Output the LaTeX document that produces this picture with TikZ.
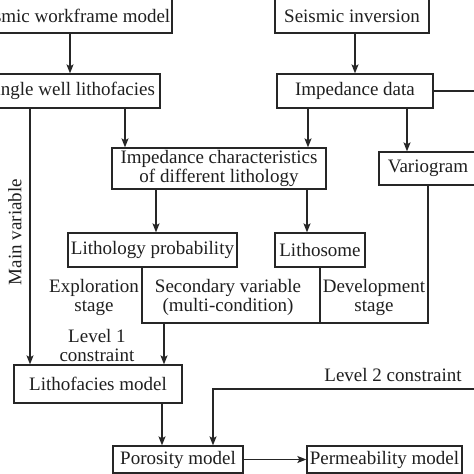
\documentclass[tikz,border=0pt]{standalone}
\usepackage{fontspec}
\setmainfont{Liberation Serif}
\usetikzlibrary{arrows.meta}
\begin{document}
\begin{tikzpicture}[x=1pt,y=-1pt,
  every node/.style={font=\fontsize{19}{19}\selectfont, text=black!88},
  box/.style={draw=black!85, line width=1.3pt, inner sep=0pt, align=center},
  ln/.style={draw=black!85, line width=1.3pt},
  arr/.style={ln, -{Stealth[length=9pt,width=7pt,inset=2pt]}},
  lbl/.style={align=center, inner sep=0pt}]
\clip (0,0) rectangle (474,474);
\fill[white] (0,0) rectangle (474,474);
% boxes
\node[box, minimum width=204pt, minimum height=34pt] (wf) at (70,16) {Seismic workframe model};
\node[box, minimum width=154pt, minimum height=34pt] (si) at (352,16) {Seismic inversion};
\node[box, minimum width=180pt, minimum height=34pt] (sw) at (70,91) {Single well lithofacies};
\node[box, minimum width=156pt, minimum height=34pt] (id) at (355,91) {Impedance data};
\node[box, minimum width=214pt, minimum height=41pt] (ic) at (219,168.5) {Impedance characteristics\\of different lithology};
\node[box, minimum width=98pt, minimum height=33pt] (vg) at (428,168.5) {Variogram};
\node[box, minimum width=169pt, minimum height=34pt] (lp) at (152.5,250) {Lithology probability};
\node[box, minimum width=90pt, minimum height=34pt] (ls) at (320,250) {Lithosome};
\node[box, minimum width=168pt, minimum height=38pt] (lm) at (98,384) {Lithofacies model};
\node[box, minimum width=130pt, minimum height=27pt] (pm) at (178,459.5) {Porosity model};
\node[box, minimum width=155pt, minimum height=27pt] (pe) at (384.5,459.5) {Permeability model};
% helper coordinates
\coordinate (xA) at (30,0);
\coordinate (xB) at (125,0);
\coordinate (xC) at (308,0);
\coordinate (xD) at (407,0);
\coordinate (xE) at (156,0);
\coordinate (xF) at (307,0);
\coordinate (xG) at (142,0);
\coordinate (xH) at (428,0);
\coordinate (xI) at (164,0);
\coordinate (xJ) at (162,0);
\coordinate (xK) at (213,0);
\coordinate (yM) at (0,323);
\coordinate (yL2) at (0,389);
\coordinate (edgeR) at (480,0);
% connectors
\draw[arr] (wf.south -| sw.north) -- (sw.north);
\draw[arr] (si.south -| id.north) -- (id.north);
\draw[arr] (sw.south -| xA) -- (lm.north -| xA);
\draw[arr] (sw.south -| xB) -- (ic.north -| xB);
\draw[arr] (id.south -| xC) -- (ic.north -| xC);
\draw[arr] (id.south -| xD) -- (vg.north -| xD);
\draw[ln] (id.east) -- (id.east -| edgeR);
\draw[arr] (ic.south -| xE) -- (lp.north -| xE);
\draw[arr] (ic.south -| xF) -- (ls.north -| xF);
\draw[ln] (lp.south -| xG) -- (yM -| xG) -- (yM -| xH) -- (vg.south -| xH);
\draw[ln] (ls.south) -- (yM -| ls.south);
\draw[arr] (yM -| xI) -- (lm.north -| xI);
\draw[arr] (lm.south -| xJ) -- (pm.north -| xJ);
\draw[arr] (yL2 -| edgeR) -- (yL2 -| xK) -- (pm.north -| xK);
\draw[arr] (pm.east) -- (pe.west);
% labels
\node[lbl, rotate=90] (mv) at (15,232) {Main variable};
\node[lbl] (ex) at (94,297) {Exploration\\stage};
\node[lbl] (sv) at (228,297) {Secondary variable\\(multi-condition)};
\node[lbl] (dv) at (374,297) {Development\\stage};
\node[lbl] (l1) at (97,345) {Level 1\\constraint};
\node[lbl] (l2) at (393,375) {Level 2 constraint};
\end{tikzpicture}
\end{document}
